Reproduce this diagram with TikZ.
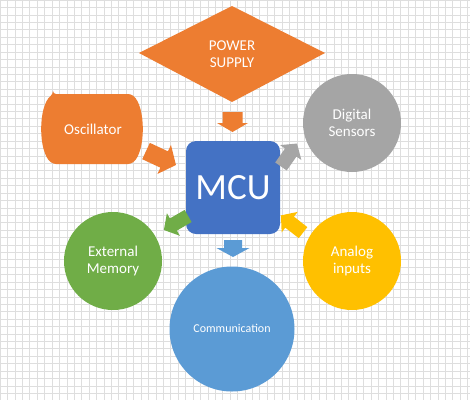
\documentclass[tikz,border=0pt]{standalone}
\usepackage{fontspec}
\setmainfont{Carlito}
\definecolor{gridc}{HTML}{DEDEDE}
\definecolor{orng}{HTML}{ED7D31}
\definecolor{mcub}{HTML}{4472C4}
\definecolor{grayc}{HTML}{A5A5A5}
\definecolor{grn}{HTML}{70AD47}
\definecolor{yel}{HTML}{FFC000}
\definecolor{lblue}{HTML}{5B9BD5}
\tikzset{
  lbl/.style={text=white, font=\fontsize{15}{17.5}\selectfont, align=center},
  circ/.style={circle, inner sep=0pt},
}
% block arrow: color, x, y, angle, length, shaft half width, head half width, head length
\newcommand\barrow[8]{%
  \fill[#1, shift={(#2,#3)}, rotate=#4]
    ({-#5/2},{-#6}) -- ({#5/2-#8},{-#6}) -- ({#5/2-#8},{-#7}) -- ({#5/2},0)
    -- ({#5/2-#8},{#7}) -- ({#5/2-#8},{#6}) -- ({-#5/2},{#6}) -- cycle;
  \coordinate (arr#1#4) at (#2,#3);}
\begin{document}
\begin{tikzpicture}[x=1pt,y=-1pt]
\useasboundingbox (0,0) rectangle (474,405);
\fill[white] (0,0) rectangle (474,405);
% grid
\foreach \i in {0,...,63} {\draw[gridc, line width=0.5pt] (\i*7.42,0) -- (\i*7.42,400);}
\foreach \j in {0,...,53} {\draw[gridc, line width=0.5pt] (0,\j*7.42) -- (470,\j*7.42);}
% power supply
\fill[orng] (139,53) -- (232,6) -- (325,53) -- (232,102) -- cycle;
\node[lbl] (pow) at (232,54) {POWER\\SUPPLY};
% oscillator
\fill[orng, rounded corners=3pt] (53,94) -- (131,94) .. controls (146,106) and (146,152) .. (131,164) -- (53,164) .. controls (38,152) and (38,106) .. (53,94) -- cycle;
\node[lbl] (osc) at (93,129) {Oscillator};
% MCU
\node[fill=mcub, rounded corners=10pt, minimum width=94pt, minimum height=93pt, inner sep=0pt,
  text=white, font=\fontsize{37}{40}\selectfont] (mcu) at (233,187.5) {MCU};
% circles
\node[circ, fill=grayc, minimum size=98pt, lbl] (dig) at (352,123) {Digital\\Sensors};
\node[circ, fill=grn, minimum size=98pt, lbl] (ext) at (113,261) {External\\Memory};
\node[circ, fill=yel, minimum size=98pt, lbl] (ana) at (352,261) {Analog\\inputs};
\node[circ, fill=lblue, minimum size=125pt] (com) at (232,329) {};
\node[text=white, font=\fontsize{12}{14}\selectfont] (comt) at (232,328) {Communication};
% block arrows
\barrow{orng}{232.5}{122}{-90}{20}{10}{15.5}{9}
\barrow{lblue}{233}{248.5}{-90}{17}{9}{16.5}{9}
\barrow{orng}{161}{158}{-25}{33}{9}{16}{13}
\barrow{grayc}{289}{155}{55}{28}{7}{13}{11}
\barrow{grn}{176}{223}{210}{28}{7}{13}{11}
\barrow{yel}{292}{224}{142}{28}{7}{13}{11}
\end{tikzpicture}
\end{document}
